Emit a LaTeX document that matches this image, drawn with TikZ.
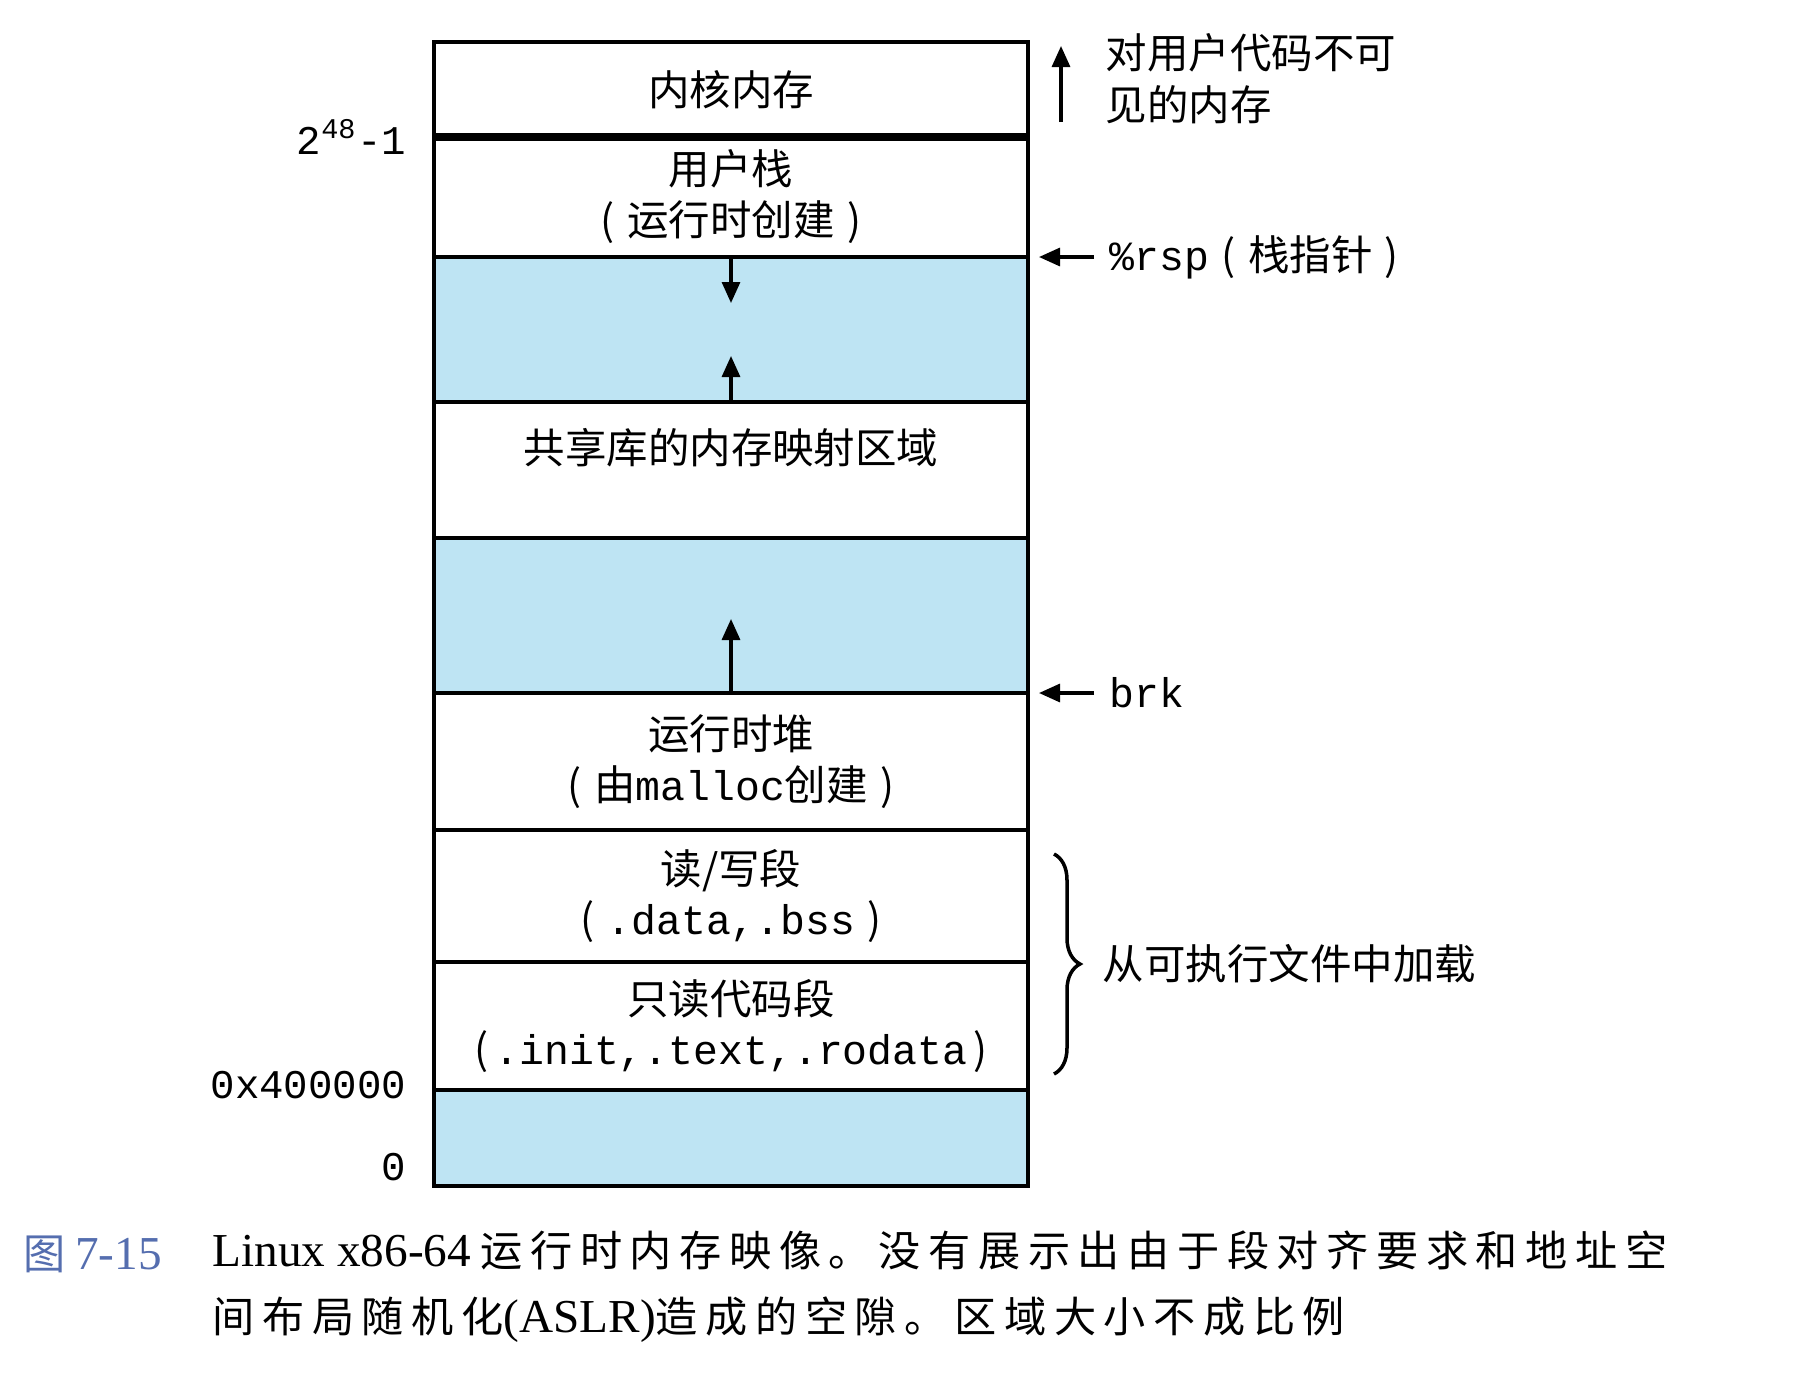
\documentclass[tikz,border=0pt]{standalone}
\usepackage{fontspec}
\setmainfont{Noto Sans CJK SC}
\setmonofont{Liberation Mono}
\newfontfamily\capserif[Scale=1.12]{Liberation Serif}
\newfontfamily\capcjk[LetterSpace=18]{Noto Sans CJK SC}
\usetikzlibrary{arrows.meta,positioning,calc,decorations.pathreplacing}
\definecolor{gapblue}{RGB}{190,228,243}
\definecolor{capblue}{RGB}{85,110,175}
\newcommand\popen{(\hspace{0.3em}}
\newcommand\pclose{\hspace{0.3em})}
\tikzset{
  region/.style={
    draw,line width=1.3pt,fill=white,minimum width=59.4mm,
    outer sep=0pt,inner sep=0pt,align=center,
    font=\fontsize{11.8}{14.5}\selectfont
  },
  gap/.style={region,fill=gapblue},
  addr/.style={anchor=east,inner sep=0pt,font=\ttfamily\fontsize{11.6}{14}\selectfont},
  note/.style={anchor=west,inner sep=0pt,align=left,font=\fontsize{11.8}{14.8}\selectfont},
  ptr/.style={-{Triangle[length=2.1mm,width=1.8mm]},line width=0.9pt}
}

\begin{document}
\begin{tikzpicture}
\useasboundingbox (0,0) rectangle (18.15,-13.82);

% the address space, top to bottom
\node[region,minimum height=9.5mm,anchor=north west] (kern) at (4.34,-0.42) {内核内存};
\node[region,minimum height=12mm,below=0pt of kern] (ustack) {用户栈\\\popen 运行时创建\pclose};
\node[gap,minimum height=14.5mm,below=0pt of ustack] (gapa) {};
\node[region,minimum height=13.6mm,below=0pt of gapa] (shlib) {};
\node[gap,minimum height=15.5mm,below=0pt of shlib] (gapb) {};
\node[region,minimum height=13.7mm,below=0pt of gapb] (heap) {运行时堆\\\popen 由\texttt{malloc}创建\pclose};
\node[region,minimum height=13.2mm,below=0pt of heap] (rw) {读/写段\\\popen\texttt{.data,.bss}\pclose};
\node[region,minimum height=12.8mm,below=0pt of rw] (ro) {只读代码段\\(\hspace{0.15em}\texttt{.init,.text,.rodata}\hspace{0.15em})};
\node[gap,minimum height=9.6mm,below=0pt of ro] (gapc) {};

\node[font=\fontsize{11.8}{14.5}\selectfont] (shlibtxt) at ([yshift=2.2mm]shlib.center) {共享库的内存映射区域};
\draw[line width=2.5pt] (kern.south west) -- (kern.south east);

% growth arrows
\coordinate (stkend) at ([yshift=-4.6mm]gapa.north);
\coordinate (libend) at ([yshift=4.6mm]gapa.south);
\coordinate (heapend) at ([yshift=7.4mm]gapb.south);
\draw[ptr] (gapa.north) -- (stkend);
\draw[ptr] (gapa.south) -- (libend);
\draw[ptr] (gapb.south) -- (heapend);

% addresses
\node[addr] (atop) at ([xshift=-2.7mm]ustack.north west) {2\textsuperscript{48}-1};
\node[addr] (amid) at ([xshift=-2.7mm,yshift=0.5mm]gapc.north west) {0x400000};
\node[addr] (azero) at ([xshift=-2.7mm,yshift=1.9mm]gapc.south west) {0};

% right side notes
\coordinate (kbot) at ([xshift=3.3mm,yshift=1.5mm]kern.south east);
\coordinate (ktop) at ([xshift=3.3mm,yshift=-0.4mm]kern.north east);
\draw[ptr] (kbot) -- (ktop);
\node[note] (hidden) at ([xshift=7.7mm,yshift=-3.7mm]kern.north east) {对用户代码不可\\见的内存};

\node[note] (rsp) at ([xshift=8.1mm]ustack.south east) {\texttt{\%rsp}\hspace{0.3em}\popen 栈指针\pclose};
\coordinate (sp) at ([xshift=1.1mm]ustack.south east);
\draw[ptr,shorten <=1.5mm] (rsp.west) -- (sp);

\node[note] (brk) at ([xshift=8.1mm]heap.north east) {\texttt{brk}};
\coordinate (bp) at ([xshift=1.1mm]heap.north east);
\draw[ptr,shorten <=1.5mm] (brk.west) -- (bp);

\coordinate (bt) at ([xshift=2.6mm,yshift=-2.4mm]rw.north east);
\coordinate (bb) at ([xshift=2.6mm,yshift=1.6mm]ro.south east);
\draw[decorate,decoration={brace,amplitude=2.6mm},line width=1pt] (bt) -- (bb);
\node[note] (loaded) at ([xshift=4.8mm]$(bt)!0.5!(bb)$) {从可执行文件中加载};

% caption
\node[anchor=west,inner sep=0pt,text=capblue,font=\fontsize{12}{18.8}\selectfont] (fignum) at (0.23,-12.54) {图\ {\capserif 7-15}};
\node[anchor=west,inner sep=0pt,align=left,font=\fontsize{12}{18.8}\selectfont] (cap) at (2.12,-12.87)
  {{\capserif Linux x86-64} {\capcjk 运行时内存映像。没有展示出由于段对齐要求和地址空}\\
   {\capcjk 间布局随机化}{\capserif (ASLR)}{\capcjk 造成的空隙。区域大小不成比例}};
\end{tikzpicture}
\end{document}
